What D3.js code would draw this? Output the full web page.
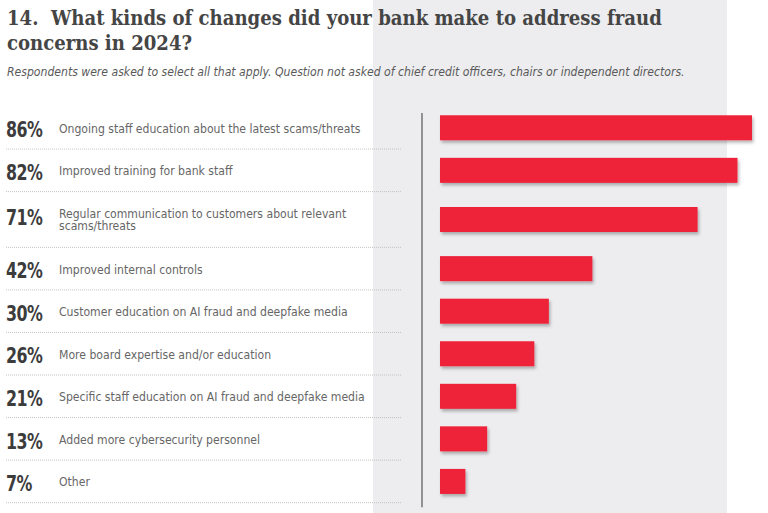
<!DOCTYPE html>
<html>
<head>
<meta charset="utf-8">
<script src="https://cdn.jsdelivr.net/npm/d3@7"></script>
<style>
  html, body { margin: 0; padding: 0; background: #fff; }
  svg { display: block; }
  .pre { white-space: pre; }
</style>
</head>
<body>
<svg id="chart" width="768" height="513"></svg>
<script>
// ---- data ----
const titleLines = ["14.  What kinds of changes did your bank make to address fraud", "concerns in 2024?"];
const subtitle = "Respondents were asked to select all that apply. Question not asked of chief credit officers, chairs or independent directors.";
const categories = [
  ["Ongoing staff education about the latest scams/threats"],
  ["Improved training for bank staff"],
  ["Regular communication to customers about relevant", "scams/threats"],
  ["Improved internal controls"],
  ["Customer education on AI fraud and deepfake media"],
  ["More board expertise and/or education"],
  ["Specific staff education on AI fraud and deepfake media"],
  ["Added more cybersecurity personnel"],
  ["Other"]
];
const values = [86, 82, 71, 42, 30, 26, 21, 13, 7];

// ---- layout ----
const W = 768, H = 513;
const svg = d3.select("#chart");
const extraLine = 0.31;
const units = categories.map(c => 1 + extraLine * (c.length - 1));
const starts = d3.cumsum([0, ...units]);
const totalUnits = d3.sum(units);
const y = d3.scaleLinear().domain([0, totalUnits]).range([106.5, 502.7]);
const x = d3.scaleLinear().domain([0, 100]).range([440, 802.8]);
const barH = 25;

const rows = categories.map((c, i) => ({
  lines: c, value: values[i],
  top: y(starts[i]), bottom: y(starts[i] + units[i]),
  mid: (y(starts[i]) + y(starts[i] + units[i])) / 2
}));

// defs
const defs = svg.append("defs");
const f = defs.append("filter").attr("id", "sh").attr("x", "-10%").attr("y", "-30%").attr("width", "130%").attr("height", "180%");
f.append("feDropShadow").attr("dx", 1.5).attr("dy", 2.5).attr("stdDeviation", 1.6)
  .attr("flood-color", "#000").attr("flood-opacity", 0.28);

// gray panel
svg.append("rect").attr("x", 373).attr("y", 0).attr("width", 354).attr("height", H).attr("fill", "#ededef");

// title
svg.append("g").selectAll("text").data(titleLines).join("text")
  .attr("class", "pre")
  .attr("x", 7).attr("y", (d, i) => 25 + i * 24.5)
  .attr("font-family", "'DejaVu Serif Condensed', 'DejaVu Serif', serif")
  .attr("font-weight", "bold").attr("font-size", 20.1).attr("fill", "#454545")
  .text(d => d);

svg.append("text").attr("x", 7).attr("y", 76)
  .attr("font-family", "'Liberation Sans Narrow', 'DejaVu Sans Condensed', sans-serif")
  .attr("font-style", "italic").attr("font-size", 12.1).attr("fill", "#595959")
  .text(subtitle);

// separators
svg.append("g").selectAll("line").data(rows).join("line")
  .attr("x1", 6).attr("x2", 401)
  .attr("y1", d => d.bottom).attr("y2", d => d.bottom)
  .attr("stroke", "#b5b5b5").attr("stroke-width", 0.8).attr("stroke-dasharray", "1,1");

// axis line
svg.append("line").attr("x1", x(0) - 18).attr("x2", x(0) - 18)
  .attr("y1", y.range()[0] + 6.5).attr("y2", y.range()[1] + 4.5)
  .attr("stroke", "#7a7a7a").attr("stroke-width", 1.6);

// bars
svg.append("g").attr("filter", "url(#sh)").selectAll("rect").data(rows).join("rect")
  .attr("x", x(0)).attr("y", d => d.mid - barH / 2)
  .attr("width", d => x(d.value) - x(0)).attr("height", barH)
  .attr("fill", "#ee2038");

// labels
const lab = svg.append("g").selectAll("g").data(rows).join("g");
lab.append("text")
  .attr("transform", d => `translate(6,${d.lines.length > 1 ? d.mid + 5.3 : d.mid + 9.7}) scale(0.8,1)`)
  .attr("font-family", "'Liberation Sans Narrow', 'DejaVu Sans Condensed', sans-serif")
  .attr("font-weight", "bold").attr("font-size", 22).attr("fill", "#3c3c3c")
  .attr("letter-spacing", -0.6)
  .text(d => d.value + "%");
lab.each(function(d) {
  const g = d3.select(this);
  const base = d.lines.length > 1 ? d.mid - 1.8 : d.mid + 5;
  g.selectAll("text.cat").data(d.lines).join("text").attr("class", "cat")
    .attr("x", 59).attr("y", (t, i) => base + i * 12.8)
    .attr("font-family", "'Liberation Sans Narrow', 'DejaVu Sans Condensed', sans-serif")
    .attr("font-size", 12.1).attr("fill", "#666")
    .text(t => t);
});
</script>
</body>
</html>
